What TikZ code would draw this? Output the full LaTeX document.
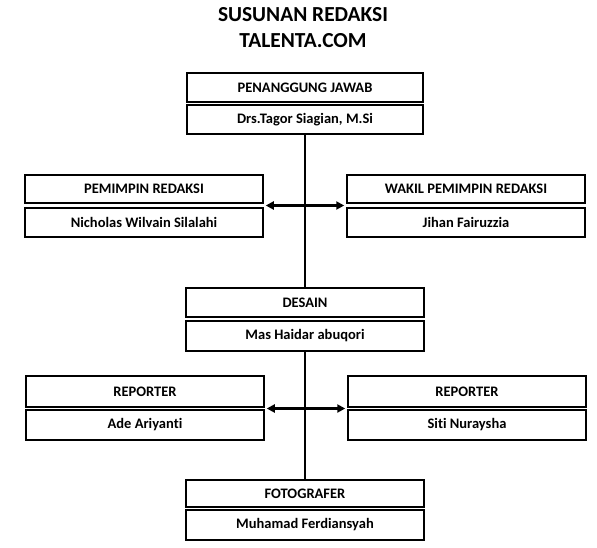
\documentclass[tikz,border=0pt]{standalone}
\usepackage{fontspec}
\setmainfont{Carlito}[Ligatures=NoCommon]
\usetikzlibrary{arrows.meta,calc}
\begin{document}
\begin{tikzpicture}[x=1pt,y=-1pt,
  box/.style={draw, line width=1.5pt, minimum width=238pt, minimum height=29pt,
    inner sep=0pt, font=\fontsize{14.5}{16}\selectfont\bfseries},
  link/.style={line width=2.2pt},
  dual/.style={line width=2.2pt, {Triangle[length=8pt,width=8pt]}-{Triangle[length=8pt,width=8pt]}}]
\useasboundingbox (0,0) rectangle (597,547);
\node[font=\fontsize{21.4}{24}\selectfont\bfseries] (t1) at (303,15) {SUSUNAN REDAKSI};
\node[font=\fontsize{21.4}{24}\selectfont\bfseries] (t2) at (303,41) {TALENTA.COM};
% top
\node[box, minimum width=236pt] (pj) at (305,87.5) {PENANGGUNG JAWAB};
\node[box, minimum width=236pt] (pjn) at (305,119.5) {Drs.Tagor Siagian, M.Si};
% level 2
\node[box, minimum height=28pt] (pr) at (144,189) {PEMIMPIN REDAKSI};
\node[box] (prn) at (144,222.5) {Nicholas Wilvain Silalahi};
\node[box, minimum height=28pt] (wk) at (466,189) {WAKIL PEMIMPIN REDAKSI};
\node[box] (wkn) at (466,222.5) {Jihan Fairuzzia};
% desain
\node[box] (ds) at (305,302.5) {DESAIN};
\node[box, minimum height=30pt] (dsn) at (305,336) {Mas Haidar abuqori};
% reporters
\node[box, minimum height=31pt] (r1) at (145,391.5) {REPORTER};
\node[box, minimum height=30pt] (r1n) at (145,425) {Ade Ariyanti};
\node[box, minimum height=31pt] (r2) at (467,391.5) {REPORTER};
\node[box, minimum height=30pt] (r2n) at (467,425) {Siti Nuraysha};
% foto
\node[box, minimum height=27pt] (ft) at (305,493.5) {FOTOGRAFER};
\node[box, minimum height=30pt] (ftn) at (305,525) {Muhamad Ferdiansyah};
% connectors
\draw[link] (pjn.south) -- (ds.north);
\draw[link] (dsn.south) -- (ft.north);
\draw[dual] ($(pr.south east)!0.5!(prn.north east)+(2,0)$) -- ($(wk.south west)!0.5!(wkn.north west)+(-2,0)$);
\draw[dual] ($(r1.south east)!0.5!(r1n.north east)+(2,0)$) -- ($(r2.south west)!0.5!(r2n.north west)+(-2,0)$);
\end{tikzpicture}
\end{document}
